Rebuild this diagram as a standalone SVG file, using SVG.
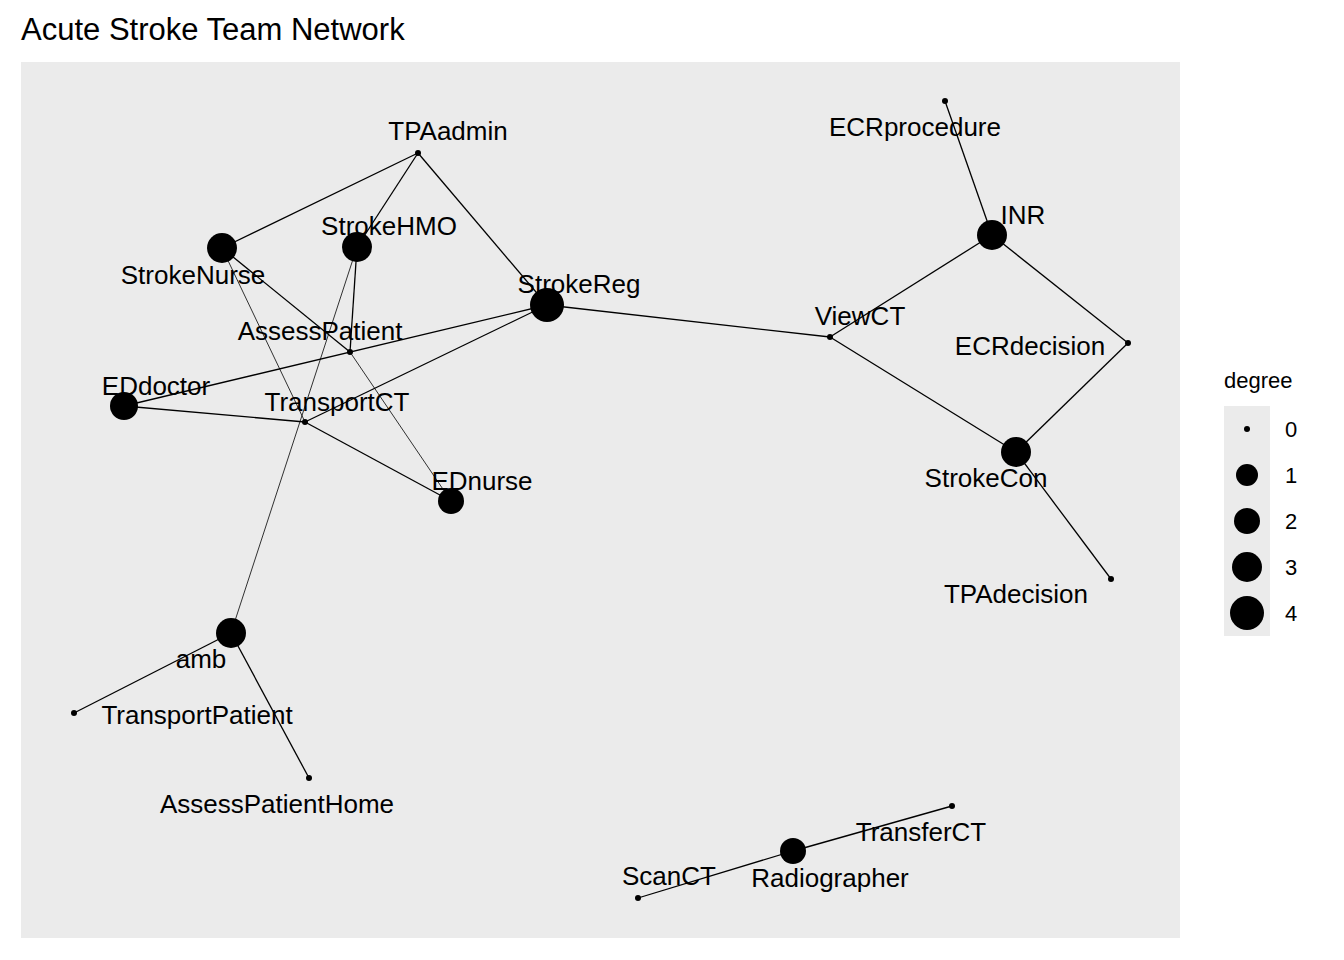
<svg xmlns="http://www.w3.org/2000/svg" width="1344" height="960" viewBox="0 0 1344 960">
<style>
text{font-family:"Liberation Sans",Arial,sans-serif;fill:#000}
.l{font-size:26px;text-anchor:middle}
.e line{stroke:#000;stroke-width:1.3}
.e line.t{stroke-width:0.8}
.lg{font-size:22px}
</style>
<rect width="1344" height="960" fill="#fff"/>
<text x="21" y="40" font-size="31">Acute Stroke Team Network</text>
<rect x="21" y="62" width="1159" height="876" fill="#ebebeb"/>
<g class="e" id="edges">
<line x1="418" y1="153" x2="222" y2="248"/>
<line x1="418" y1="153" x2="357" y2="247"/>
<line x1="418" y1="153" x2="547" y2="305"/>
<line x1="222" y1="248" x2="350" y2="352"/>
<line x1="350" y1="352" x2="451" y2="501" class="t"/>
<line x1="222" y1="248" x2="305" y2="422" class="t"/>
<line x1="357" y1="247" x2="350" y2="352"/>
<line x1="357" y1="247" x2="231" y2="633" class="t"/>
<line x1="547" y1="305" x2="124" y2="406"/>
<line x1="547" y1="305" x2="305" y2="422"/>
<line x1="547" y1="305" x2="830" y2="337"/>
<line x1="124" y1="406" x2="305" y2="422"/>
<line x1="305" y1="422" x2="451" y2="501"/>
<line x1="830" y1="337" x2="992" y2="235"/>
<line x1="830" y1="337" x2="1016" y2="452"/>
<line x1="992" y1="235" x2="945" y2="101"/>
<line x1="992" y1="235" x2="1128" y2="343"/>
<line x1="1128" y1="343" x2="1016" y2="452"/>
<line x1="1016" y1="452" x2="1111" y2="579"/>
<line x1="231" y1="633" x2="74" y2="713"/>
<line x1="231" y1="633" x2="309" y2="778"/>
<line x1="638" y1="898" x2="793" y2="851"/>
<line x1="793" y1="851" x2="952" y2="806"/>
</g>
<g id="TPAadmin"><circle cx="418" cy="153" r="3"/><text class="l" x="448" y="140">TPAadmin</text></g>
<g id="StrokeNurse"><circle cx="222" cy="248" r="15"/><text class="l" x="193" y="284">StrokeNurse</text></g>
<g id="StrokeHMO"><circle cx="357" cy="247" r="15"/><text class="l" x="389" y="235">StrokeHMO</text></g>
<g id="StrokeReg"><circle cx="547" cy="305" r="17"/><text class="l" x="579" y="293">StrokeReg</text></g>
<g id="AssessPatient"><circle cx="350" cy="352" r="3"/><text class="l" x="320" y="340">AssessPatient</text></g>
<g id="EDdoctor"><circle cx="124" cy="406" r="14"/><text class="l" x="156" y="395">EDdoctor</text></g>
<g id="TransportCT"><circle cx="305" cy="422" r="3"/><text class="l" x="337" y="411">TransportCT</text></g>
<g id="EDnurse"><circle cx="451" cy="501" r="13"/><text class="l" x="482" y="490">EDnurse</text></g>
<g id="amb"><circle cx="231" cy="633" r="15"/><text class="l" x="201" y="668">amb</text></g>
<g id="TransportPatient"><circle cx="74" cy="713" r="3"/><text class="l" x="197" y="724">TransportPatient</text></g>
<g id="AssessPatientHome"><circle cx="309" cy="778" r="3"/><text class="l" x="277" y="813">AssessPatientHome</text></g>
<g id="ECRprocedure"><circle cx="945" cy="101" r="3"/><text class="l" x="915" y="136">ECRprocedure</text></g>
<g id="INR"><circle cx="992" cy="235" r="15"/><text class="l" x="1023" y="224">INR</text></g>
<g id="ViewCT"><circle cx="830" cy="337" r="3"/><text class="l" x="860" y="325">ViewCT</text></g>
<g id="ECRdecision"><circle cx="1128" cy="343" r="3"/><text class="l" x="1030" y="355">ECRdecision</text></g>
<g id="StrokeCon"><circle cx="1016" cy="452" r="15"/><text class="l" x="986" y="487">StrokeCon</text></g>
<g id="TPAdecision"><circle cx="1111" cy="579" r="3"/><text class="l" x="1016" y="603">TPAdecision</text></g>
<g id="TransferCT"><circle cx="952" cy="806" r="3"/><text class="l" x="921" y="841">TransferCT</text></g>
<g id="Radiographer"><circle cx="793" cy="851" r="13"/><text class="l" x="830" y="887">Radiographer</text></g>
<g id="ScanCT"><circle cx="638" cy="898" r="3"/><text class="l" x="669" y="885">ScanCT</text></g>
<g id="legend">
<text class="lg" x="1224" y="388" font-size="24">degree</text>
<rect x="1224" y="406" width="46" height="230" fill="#ebebeb"/>
<circle cx="1247" cy="429" r="3"/><circle cx="1247" cy="475" r="11"/><circle cx="1247" cy="521" r="13"/><circle cx="1247" cy="567" r="15"/><circle cx="1247" cy="613" r="17"/>
<text class="lg" x="1285" y="437">0</text><text class="lg" x="1285" y="483">1</text><text class="lg" x="1285" y="529">2</text><text class="lg" x="1285" y="575">3</text><text class="lg" x="1285" y="621">4</text>
</g>
</svg>
